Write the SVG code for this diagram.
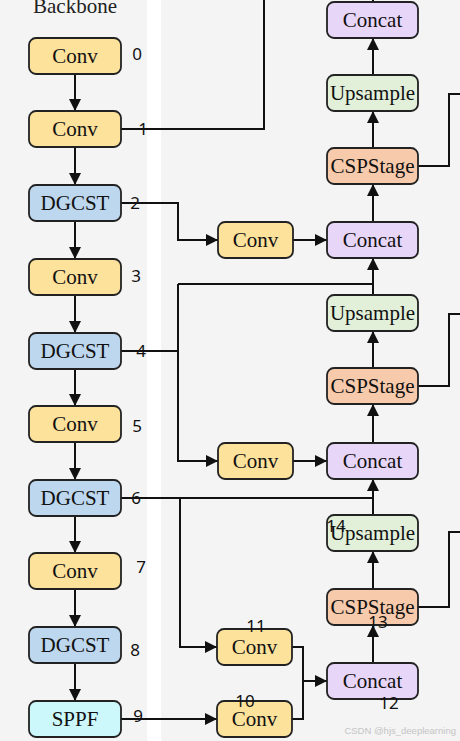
<svg xmlns="http://www.w3.org/2000/svg" width="460" height="741" viewBox="0 0 460 741">
<defs>
<marker id="ah" markerUnits="userSpaceOnUse" markerWidth="12" markerHeight="12" viewBox="0 0 12 12" refX="12" refY="6" orient="auto">
<path d="M0,0 L12,6 L0,12 Z" fill="#111"/>
</marker>
<style>
.n rect{stroke:#222;stroke-width:1.8}
.n text{font-family:"Liberation Serif","Times New Roman",serif;font-size:21px;fill:#111;text-anchor:middle}
.conv rect{fill:#fde29c}
.dg rect{fill:#bdd7ee}
.sppf rect{fill:#ccf8fc}
.cat rect{fill:#e8d6f9}
.up rect{fill:#e2f0da}
.csp rect{fill:#f7caab}
.c path{fill:none;stroke:#111;stroke-width:2}
.a{marker-end:url(#ah)}
.lb{font-family:"Noto Sans","DejaVu Sans",sans-serif;font-size:17px;fill:#111;text-anchor:middle}
</style>
</defs>
<rect x="0" y="0" width="460" height="741" fill="#ffffff"/>
<rect x="0" y="-10" width="147" height="760" fill="#f4f4f4"/>
<rect x="161" y="-20" width="320" height="770" rx="14" fill="#f4f4f4"/>
<text x="75" y="13" style="font-family:'Liberation Serif','Times New Roman',serif;font-size:21px;fill:#222;text-anchor:middle">Backbone</text>

<g class="c" id="connectors">
<path class="a" d="M75,74 V111"/>
<path class="a" d="M75,147 V185"/>
<path class="a" d="M75,221 V259"/>
<path class="a" d="M75,295 V333"/>
<path class="a" d="M75,369 V406"/>
<path class="a" d="M75,442 V480"/>
<path class="a" d="M75,516 V553"/>
<path class="a" d="M75,589 V627"/>
<path class="a" d="M75,663 V701"/>
<path d="M121,129 H264 V-5"/>
<path d="M373,2 V-5"/>
<path class="a" d="M373,75 V38"/>
<path class="a" d="M373,148 V111"/>
<path class="a" d="M373,222 V184"/>
<path class="a" d="M373,295 V258"/>
<path class="a" d="M373,368 V331"/>
<path class="a" d="M373,443 V404"/>
<path class="a" d="M373,515 V479"/>
<path class="a" d="M373,589 V551"/>
<path class="a" d="M373,663 V625"/>
<path d="M418,166 H449 V94 H465"/>
<path d="M418,386 H449 V314 H465"/>
<path d="M418,607 H449 V532 H465"/>
<path class="a" d="M121,203 H178 V240 H218"/>
<path class="a" d="M293,240 H327"/>
<path d="M121,351 H178"/>
<path class="a" d="M178,284 V461 H218"/>
<path d="M178,284 H373"/>
<path class="a" d="M293,461 H327"/>
<path d="M121,498 H373"/>
<path class="a" d="M180,498 V647 H217"/>
<path class="a" d="M121,719 H217"/>
<path d="M292,647 H303 V719 H292"/>
<path class="a" d="M303,681 H327"/>
</g>

<g id="n0" class="n conv"><rect x="29" y="38" width="92" height="36" rx="7"/><text x="75" y="63">Conv</text></g>
<g id="n1" class="n conv"><rect x="29" y="111" width="92" height="36" rx="7"/><text x="75" y="136">Conv</text></g>
<g id="n2" class="n dg"><rect x="29" y="185" width="92" height="36" rx="7"/><text x="75" y="210">DGCST</text></g>
<g id="n3" class="n conv"><rect x="29" y="259" width="92" height="36" rx="7"/><text x="75" y="284">Conv</text></g>
<g id="n4" class="n dg"><rect x="29" y="333" width="92" height="36" rx="7"/><text x="75" y="358">DGCST</text></g>
<g id="n5" class="n conv"><rect x="29" y="406" width="92" height="36" rx="7"/><text x="75" y="431">Conv</text></g>
<g id="n6" class="n dg"><rect x="29" y="480" width="92" height="36" rx="7"/><text x="75" y="505">DGCST</text></g>
<g id="n7" class="n conv"><rect x="29" y="553" width="92" height="36" rx="7"/><text x="75" y="578">Conv</text></g>
<g id="n8" class="n dg"><rect x="29" y="627" width="92" height="36" rx="7"/><text x="75" y="652">DGCST</text></g>
<g id="n9" class="n sppf"><rect x="29" y="701" width="92" height="36" rx="7"/><text x="75" y="726">SPPF</text></g>

<g id="r_concat_a" class="n cat"><rect x="327" y="2" width="91" height="36" rx="7"/><text x="372.5" y="27">Concat</text></g>
<g id="r_up_a" class="n up"><rect x="327" y="75" width="91" height="36" rx="7"/><text x="372.5" y="100">Upsample</text></g>
<g id="r_csp_a" class="n csp"><rect x="327" y="148" width="91" height="36" rx="7"/><text x="372.5" y="173">CSPStage</text></g>
<g id="r_concat_b" class="n cat"><rect x="327" y="222" width="91" height="36" rx="7"/><text x="372.5" y="247">Concat</text></g>
<g id="r_conv_b" class="n conv"><rect x="218" y="222" width="75" height="36" rx="7"/><text x="255.5" y="247">Conv</text></g>
<g id="r_up_b" class="n up"><rect x="327" y="295" width="91" height="36" rx="7"/><text x="372.5" y="320">Upsample</text></g>
<g id="r_csp_b" class="n csp"><rect x="327" y="368" width="91" height="36" rx="7"/><text x="372.5" y="393">CSPStage</text></g>
<g id="r_concat_c" class="n cat"><rect x="327" y="443" width="91" height="36" rx="7"/><text x="372.5" y="468">Concat</text></g>
<g id="r_conv_c" class="n conv"><rect x="218" y="443" width="75" height="36" rx="7"/><text x="255.5" y="468">Conv</text></g>
<g id="n14" class="n up"><rect x="327" y="515" width="91" height="36" rx="7"/><text x="372.5" y="540">Upsample</text></g>
<g id="n13" class="n csp"><rect x="327" y="589" width="91" height="36" rx="7"/><text x="372.5" y="614">CSPStage</text></g>
<g id="n12" class="n cat"><rect x="327" y="663" width="91" height="36" rx="7"/><text x="372.5" y="688">Concat</text></g>
<g id="n11" class="n conv"><rect x="217" y="629" width="75" height="36" rx="7"/><text x="254.5" y="654">Conv</text></g>
<g id="n10" class="n conv"><rect x="217" y="701" width="75" height="36" rx="7"/><text x="254.5" y="726">Conv</text></g>

<g id="labels">
<text class="lb" x="137" y="60">0</text>
<text class="lb" x="143" y="135">1</text>
<text class="lb" x="135" y="209">2</text>
<text class="lb" x="136" y="282">3</text>
<text class="lb" x="141" y="357">4</text>
<text class="lb" x="137" y="432">5</text>
<text class="lb" x="136" y="504">6</text>
<text class="lb" x="141" y="573">7</text>
<text class="lb" x="135" y="656">8</text>
<text class="lb" x="138" y="722">9</text>
<text class="lb" x="245" y="707">10</text>
<text class="lb" x="256" y="632">11</text>
<text class="lb" x="389" y="709">12</text>
<text class="lb" x="378" y="628">13</text>
<text class="lb" x="336" y="532">14</text>
</g>
<text x="456" y="734" style="font-family:'Liberation Sans',Arial,sans-serif;font-size:9.5px;fill:#c4c4c4;text-anchor:end">CSDN @hjs_deeplearning</text>
</svg>
